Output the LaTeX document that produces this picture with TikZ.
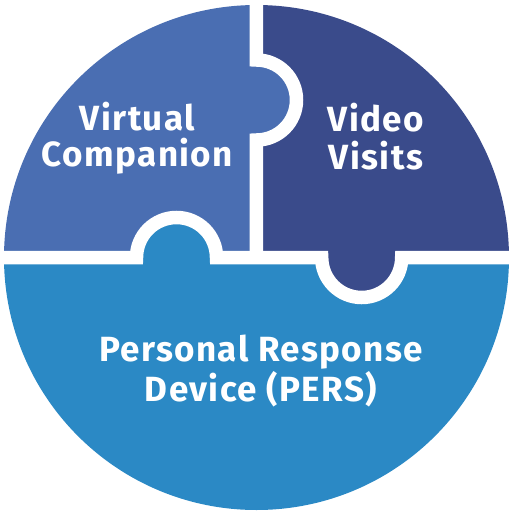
\documentclass[tikz,border=0pt]{standalone}
\usepackage{fontspec}
\setmainfont{Fira Sans}[LetterSpace=4]
\definecolor{compblue}{HTML}{4A6EB2}
\definecolor{videoblue}{HTML}{3A4B8B}
\definecolor{persblue}{HTML}{2B89C5}

\begin{document}
\begin{tikzpicture}[x=1pt, y=1pt,
  cut/.style={draw=white, line width=13.5pt},
  lbl/.style={text=white, font=\fontsize{35}{36}\selectfont\bfseries, align=center, anchor=base}]
  \useasboundingbox (-256.5,-257.5) rectangle (254.5,257.5);
  % Virtual companion piece (top left)
  \fill[compblue] (0,0) -- (-40,0) arc[start angle=0, end angle=180, radius=40]
    -- (-252.5,0) arc[start angle=180, end angle=90, radius=252.5]
    -- (0,197.5) arc[start angle=90, end angle=-90, radius=40] -- cycle;
  % Video visits piece (top right)
  \fill[videoblue] (0,0) -- (0,117.5) arc[start angle=-90, end angle=90, radius=40]
    -- (0,252.5) arc[start angle=90, end angle=0, radius=252.5]
    -- (145.2,0) arc[start angle=0, end angle=-180, radius=40] -- cycle;
  % PERS piece (bottom half)
  \fill[persblue] (-252.5,0) -- (-120,0) arc[start angle=180, end angle=0, radius=40]
    -- (65.2,0) arc[start angle=180, end angle=360, radius=40]
    -- (252.5,0) arc[start angle=0, end angle=-180, radius=252.5] -- cycle;

  % white cuts between the pieces
  \draw[cut] (0,262) -- (0,197.5) arc[start angle=90, end angle=-90, radius=40] -- (0,0);
  \draw[cut] (-262,0) -- (-120,0) arc[start angle=180, end angle=0, radius=40]
    -- (65.2,0) arc[start angle=180, end angle=360, radius=40] -- (262,0);

  % labels (anchored at the baseline of the last line)
  \node[lbl] (comp) at (-119,90.8) {Virtual\\Companion};
  \node[lbl] (video) at (119.5,88.5) {Video\\[2pt]Visits};
  \node[lbl] (pers) at (4.5,-143.5) {Personal Response\\[0.7pt]Device (PERS)};
\end{tikzpicture}
\end{document}
